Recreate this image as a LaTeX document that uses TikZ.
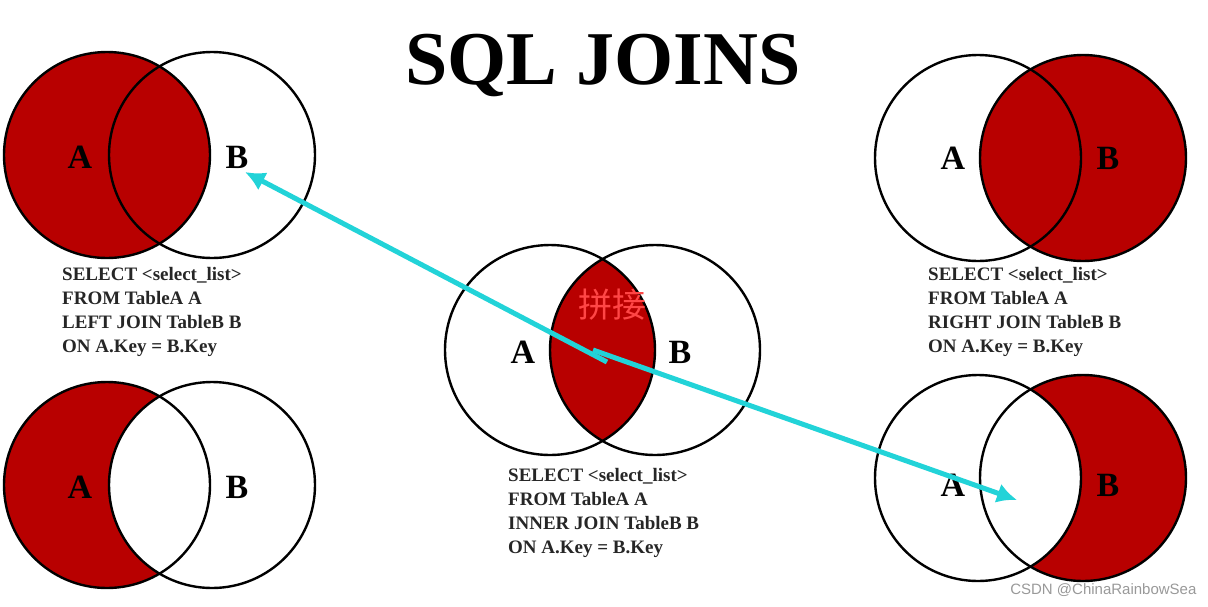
\documentclass[tikz,border=0pt]{standalone}
\usepackage{fontspec}
\setmainfont{Liberation Serif}
\newfontfamily\cjk{Noto Sans CJK SC}
\newfontfamily\wm{Liberation Sans}
\usetikzlibrary{arrows.meta}
\definecolor{jred}{HTML}{B80000}
\definecolor{jcyan}{HTML}{22D3D8}
\begin{document}
\begin{tikzpicture}[x=1pt,y=-1pt,
  circ/.style={draw=black,line width=2.4pt},
  lbl/.style={font=\bfseries\fontsize{34}{34}\selectfont},
  sqltext/.style={font=\bfseries\fontsize{19}{24}\selectfont,align=left,anchor=north west,inner sep=0pt,text=black!85},
  arr/.style={jcyan,line width=5pt,-{Latex[length=20pt,width=20pt]}}]
\useasboundingbox (0,0) rectangle (1208,606);
\def\r{103}
\fill[jred] (107,155) circle (\r);
\draw[circ] (107,155) circle (\r); \draw[circ] (212,155) circle (\r);
\begin{scope}\clip (107,485) circle (\r);
\fill[jred] (107,485) circle (\r);
\fill[white] (212,485) circle (\r);\end{scope}
\draw[circ] (107,485) circle (\r); \draw[circ] (212,485) circle (\r);
\begin{scope}\clip (550,350) circle (105); \fill[jred] (655,350) circle (105);\end{scope}
\draw[circ] (550,350) circle (105); \draw[circ] (655,350) circle (105);
\fill[jred] (1083,158) circle (\r);
\draw[circ] (978,158) circle (\r); \draw[circ] (1083,158) circle (\r);
\begin{scope}\clip (1083,478) circle (\r);
\fill[jred] (1083,478) circle (\r);
\fill[white] (978,478) circle (\r);\end{scope}
\draw[circ] (978,478) circle (\r); \draw[circ] (1083,478) circle (\r);
\node[lbl] (a1) at (80,157) {A}; \node[lbl] (b1) at (237,157) {B};
\node[lbl] (a2) at (80,487) {A}; \node[lbl] (b2) at (237,487) {B};
\node[lbl] (a3) at (523,352) {A}; \node[lbl] (b3) at (680,352) {B};
\node[lbl] (a4) at (953,158) {A}; \node[lbl] (b4) at (1108,158) {B};
\node[lbl] (a5) at (953,485) {A}; \node[lbl] (b5) at (1108,485) {B};
\node[font=\bfseries\fontsize{76}{76}\selectfont] (title) at (603,65) {SQL JOINS};
\node[sqltext] (t1) at (62,267) {SELECT <select\_list>\\FROM TableA A\\LEFT JOIN TableB B\\ON A.Key = B.Key};
\node[sqltext] (t2) at (928,267) {SELECT <select\_list>\\FROM TableA A\\RIGHT JOIN TableB B\\ON A.Key = B.Key};
\node[sqltext] (t3) at (508,468) {SELECT <select\_list>\\FROM TableA A\\INNER JOIN TableB B\\ON A.Key = B.Key};
\node[font=\cjk\fontsize{34}{34}\selectfont,text={rgb,255:red,255;green,70;blue,70}] (pj) at (612,305) {拼接};
\node[font=\wm\fontsize{15}{15}\selectfont,text=black!40,anchor=south east] (wm) at (1200,600) {CSDN @ChinaRainbowSea};
\coordinate (s1) at (607,362); \coordinate (e1) at (245,172);
\coordinate (s2) at (593,350); \coordinate (e2) at (1017,500);
\draw[arr] (s1) -- (e1);
\draw[arr] (s2) -- (e2);
\end{tikzpicture}
\end{document}
